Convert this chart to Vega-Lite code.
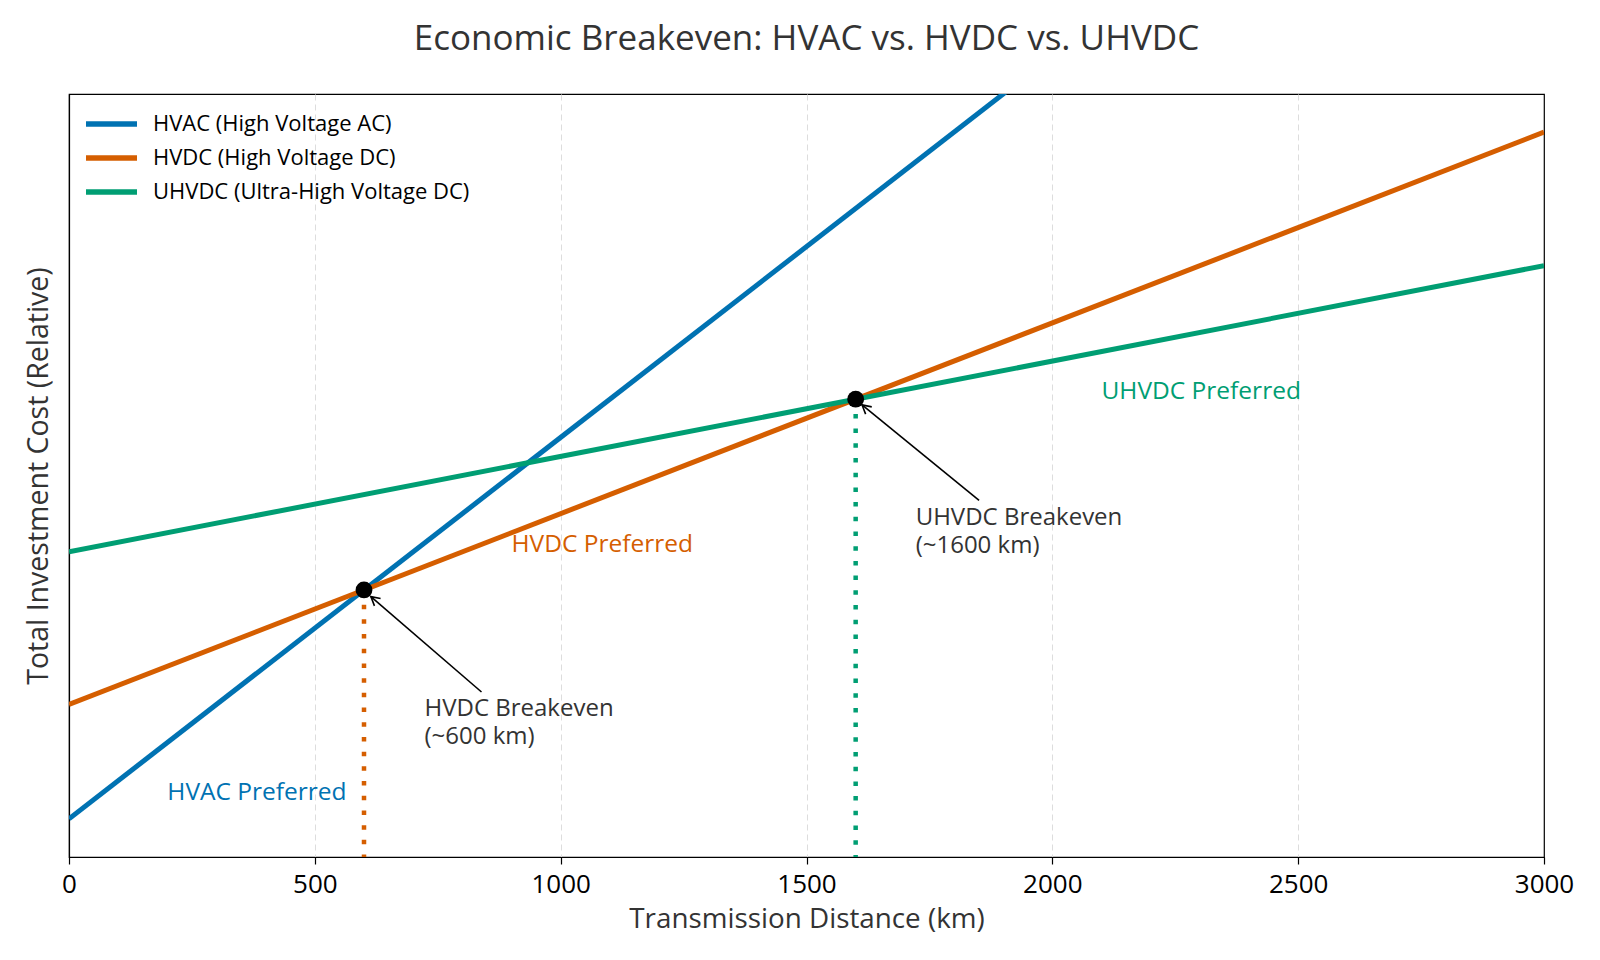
{
  "$schema": "https://vega.github.io/schema/vega-lite/v6.json",
  "width": 1475,
  "height": 763,
  "autosize": {"type": "none"},
  "padding": {"left": 69, "top": 94, "right": 56, "bottom": 103},
  "background": "white",
  "config": {
    "font": "Open Sans",
    "view": {"stroke": "black", "strokeWidth": 1.2}
  },
  "title": {
    "text": "Economic Breakeven: HVAC vs. HVDC vs. UHVDC",
    "fontSize": 35,
    "fontWeight": "normal",
    "font": "Open Sans",
    "color": "#333333",
    "anchor": "middle",
    "frame": "group",
    "baseline": "alphabetic",
    "offset": 9
  },
  "datasets": {
    "costs": [
      {"technology": "HVAC (High Voltage AC)", "distance": 0, "cost": 40},
      {"technology": "HVAC (High Voltage AC)", "distance": 3000, "cost": 1240},
      {"technology": "HVDC (High Voltage DC)", "distance": 0, "cost": 160},
      {"technology": "HVDC (High Voltage DC)", "distance": 3000, "cost": 760},
      {"technology": "UHVDC (Ultra-High Voltage DC)", "distance": 0, "cost": 320},
      {"technology": "UHVDC (Ultra-High Voltage DC)", "distance": 3000, "cost": 620}
    ],
    "breakeven": [
      {"technology": "HVDC (High Voltage DC)", "distance": 600, "cost": 280, "label": "HVDC Breakeven\n(~600 km)", "text_distance": 723, "text_cost": 148, "arrow_from_distance": 839, "arrow_from_cost": 173, "arrow_to_distance": 614, "arrow_to_cost": 273},
      {"technology": "UHVDC (Ultra-High Voltage DC)", "distance": 1600, "cost": 480, "label": "UHVDC Breakeven\n(~1600 km)", "text_distance": 1722, "text_cost": 348, "arrow_from_distance": 1851, "arrow_from_cost": 374, "arrow_to_distance": 1613, "arrow_to_cost": 474}
    ],
    "zones": [
      {"technology": "HVAC (High Voltage AC)", "label": "HVAC Preferred", "distance": 200, "cost": 60},
      {"technology": "HVDC (High Voltage DC)", "label": "HVDC Preferred", "distance": 900, "cost": 320},
      {"technology": "UHVDC (Ultra-High Voltage DC)", "label": "UHVDC Preferred", "distance": 2100, "cost": 480}
    ]
  },
  "layer": [
    {
      "data": {"name": "costs"},
      "mark": {"type": "line", "strokeWidth": 5, "clip": true},
      "encoding": {
        "x": {
          "field": "distance", "type": "quantitative",
          "scale": {"domain": [0, 3000], "nice": false},
          "axis": {
            "title": "Transmission Distance (km)",
            "values": [0, 500, 1000, 1500, 2000, 2500, 3000],
            "format": "d",
            "labelFlush": false,
            "grid": true, "gridDash": [6, 4], "gridColor": "#dddddd", "gridWidth": 1,
            "gridOpacity": {"condition": {"test": "datum.value == 0 || datum.value == 3000", "value": 0}, "value": 1},
            "domainColor": "black", "domainWidth": 1.2,
            "tickColor": "black", "tickSize": 7, "tickWidth": 1.2,
            "labelFontSize": 26, "labelColor": "black", "labelPadding": 7, "labelFont": "Open Sans",
            "titleFontSize": 27.8, "titleColor": "#333333", "titleFontWeight": "normal", "titlePadding": 8, "titleFont": "Open Sans"
          }
        },
        "y": {
          "field": "cost", "type": "quantitative",
          "scale": {"domain": [0, 800], "nice": false},
          "axis": {
            "title": "Total Investment Cost (Relative)",
            "ticks": false, "labels": false, "grid": false,
            "domainColor": "black", "domainWidth": 1.2,
            "titleFontSize": 28.5, "titleColor": "#333333", "titleFontWeight": "normal", "titlePadding": 16, "titleFont": "Open Sans"
          }
        },
        "color": {
          "field": "technology", "type": "nominal",
          "scale": {
            "domain": ["HVAC (High Voltage AC)", "HVDC (High Voltage DC)", "UHVDC (Ultra-High Voltage DC)"],
            "range": ["#0072B2", "#D55E00", "#009E73"]
          },
          "legend": {
            "orient": "none", "legendX": 14, "legendY": 18, "title": null,
            "symbolType": "stroke", "symbolStrokeWidth": 5.5, "symbolSize": 2601,
            "labelFontSize": 22, "labelColor": "black", "labelFont": "Open Sans", "labelLimit": 0,
            "labelOffset": 13, "clipHeight": 24, "rowPadding": 10
          }
        }
      }
    },
    {
      "data": {"name": "breakeven"},
      "mark": {"type": "rule", "strokeWidth": 4.5, "strokeDash": [4.5, 10.2], "strokeCap": "butt"},
      "encoding": {
        "x": {"field": "distance", "type": "quantitative"},
        "y": {"field": "cost", "type": "quantitative"},
        "y2": {"datum": 0},
        "color": {"field": "technology", "type": "nominal", "legend": null}
      }
    },
    {
      "data": {"name": "zones"},
      "mark": {"type": "text", "align": "left", "baseline": "alphabetic", "fontSize": 24.5, "font": "Open Sans"},
      "encoding": {
        "x": {"field": "distance", "type": "quantitative"},
        "y": {"field": "cost", "type": "quantitative"},
        "text": {"field": "label"},
        "color": {"field": "technology", "type": "nominal", "legend": null}
      }
    },
    {
      "data": {"name": "breakeven"},
      "mark": {"type": "rule", "color": "black", "strokeWidth": 1.6},
      "encoding": {
        "x": {"field": "arrow_from_distance", "type": "quantitative"},
        "y": {"field": "arrow_from_cost", "type": "quantitative"},
        "x2": {"field": "arrow_to_distance"},
        "y2": {"field": "arrow_to_cost"}
      }
    },
    {
      "data": {"name": "breakeven"},
      "mark": {"type": "point", "shape": "M -0.55 1 L 0 0 L 0.55 1", "filled": false, "stroke": "black", "strokeWidth": 1.6, "size": 300, "angle": 310, "opacity": 1},
      "encoding": {
        "x": {"field": "arrow_to_distance", "type": "quantitative"},
        "y": {"field": "arrow_to_cost", "type": "quantitative"}
      }
    },
    {
      "data": {"name": "breakeven"},
      "mark": {"type": "circle", "color": "black", "size": 283, "opacity": 1},
      "encoding": {
        "x": {"field": "distance", "type": "quantitative"},
        "y": {"field": "cost", "type": "quantitative"}
      }
    },
    {
      "data": {"name": "breakeven"},
      "mark": {"type": "text", "align": "left", "baseline": "alphabetic", "fontSize": 24, "font": "Open Sans", "color": "#333333", "lineBreak": "\n", "lineHeight": 28},
      "encoding": {
        "x": {"field": "text_distance", "type": "quantitative"},
        "y": {"field": "text_cost", "type": "quantitative"},
        "text": {"field": "label"}
      }
    }
  ]
}
